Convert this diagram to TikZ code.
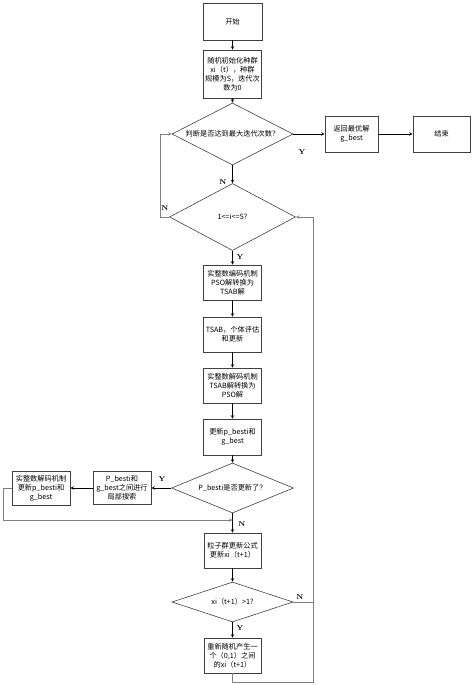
\documentclass[tikz,border=0pt]{standalone}
\usepackage{fontspec}
\newfontfamily\cjk{Noto Sans CJK SC}
\usepackage{tikz}
\usetikzlibrary{shapes.geometric, arrows}
\newcommand{\boxfont}{\cjk\fontsize{7.2}{9}\selectfont}
\tikzstyle{terminal} = [rectangle, 
minimum width=59pt, 
minimum height=37pt,
align=center, 
inner sep=1pt,
line width=0.6pt,
draw=black!75]
\tikzstyle{process} = [rectangle, 
minimum width=58pt, 
minimum height=35pt, 
align=center, 
inner sep=1pt,
line width=0.6pt,
draw=black!75]
\tikzstyle{decision} = [diamond, aspect=3, 
inner sep=0pt,
align=center,
line width=0.6pt,
draw=black!75]
\tikzstyle{arrow} = [line width=0.6pt,->,>=stealth]
\tikzstyle{backline} = [line width=0.6pt,->,>=stealth, draw=black!50]
\tikzstyle{lab} = [font=\bfseries\fontsize{7}{8}\selectfont, inner sep=0pt]

\begin{document}
\begin{tikzpicture}[x=1pt, y=1pt, node distance=52pt, font=\boxfont]
\useasboundingbox (0,0) rectangle (474,-685);

\node (begin) [terminal] at (232.5,-21.5) {开始};

\node (init) [process, below of=begin, node distance=52.5pt, minimum height=48pt]{随机初始化种群\\xi（t），种群\\规模为S，迭代次\\数为0};

\node (judge) [decision, below of=init, node distance=60pt, minimum width=121pt, minimum height=62pt]{判断是否达到最大迭代次数？};

\node (ret) [process, right of=judge, node distance=119pt, minimum width=53pt, minimum height=36pt]{返回最优解\\g\_best};

\node (finish) [process, right of=ret, node distance=90pt, minimum width=57pt, minimum height=36pt]{结束};

\node (loopi) [decision, below of=judge, node distance=83pt, minimum width=126pt, minimum height=67pt]{1<=i<=S?};

\node (encode) [process, below of=loopi, node distance=65.5pt]{实整数编码机制\\PSO解转换为\\TSAB解};

\node (assess) [process, below of=encode, node distance=52pt]{TSAB，个体评估\\和更新};

\node (decode) [process, below of=assess, node distance=51pt]{实整数解码机制\\TSAB解转换为\\PSO解};

\node (renew) [process, below of=decode, node distance=51.5pt, minimum height=36pt]{更新p\_besti和\\g\_best};

\node (check) [decision, below of=renew, node distance=51pt, minimum width=122pt, minimum height=50pt]{P\_besti是否更新了？};

\node (search) [process, left of=check, node distance=110.5pt, minimum height=33pt]{P\_besti和\\g\_best之间进行\\局部搜索};

\node (reup) [process, left of=search, node distance=81pt, minimum height=34pt]{实整数解码机制\\更新p\_besti和\\g\_best};

\node (swarm) [process, below of=check, node distance=62.5pt, minimum width=57pt]{粒子群更新公式\\更新xi（t+1）};

\node (bound) [decision, below of=swarm, node distance=51.5pt, minimum width=121pt, minimum height=40pt]{xi（t+1）>1?};

\node (regen) [process, below of=bound, node distance=53.5pt, minimum width=57pt]{重新随机产生一\\个（0,1）之间\\的xi（t+1）};

% corners of the loops
\coordinate (lft) at ([xshift=-9pt]loopi.west);
\coordinate (rgt) at (313,-682);
\coordinate (bk) at (3,-520);

\draw [arrow] (begin) -- (init);
\draw [arrow] (init) -- (judge);
\draw [arrow] (judge) -- (ret);
\draw [arrow] (ret) -- (finish);
\draw [arrow] (judge) -- (loopi);
\draw [arrow] (loopi) -- (encode);
\draw [arrow] (encode) -- (assess);
\draw [arrow] (assess) -- (decode);
\draw [arrow] (decode) -- (renew);
\draw [arrow] (renew) -- (check);
\draw [arrow] (check) -- (search);
\draw [arrow] (search) -- (reup);
\draw [arrow] (check) -- (swarm);
\draw [arrow] (swarm) -- (bound);
\draw [arrow] (bound) -- (regen);

\draw [backline] (loopi.west) -- (lft) |- (judge.west);
\draw [backline] (regen.south) |- (rgt) |- (loopi.east);
\draw [line width=0.6pt, draw=black!50] (bound.east) -- (bound.east -| rgt);
\draw [backline] (reup.west) -- (reup.west -| bk) -- (bk) -- (bk -| swarm);

\node (y1) [lab] at (302,-152) {Y};
\node (n1) [lab] at (223,-182) {N};
\node (n2) [lab] at (165,-208) {N};
\node (y2) [lab] at (240,-257) {Y};
\node (y3) [lab] at (162,-479) {Y};
\node (n3) [lab] at (242,-524) {N};
\node (n4) [lab] at (300,-597) {N};
\node (y4) [lab] at (240,-628) {Y};

\end{tikzpicture}
\end{document}
